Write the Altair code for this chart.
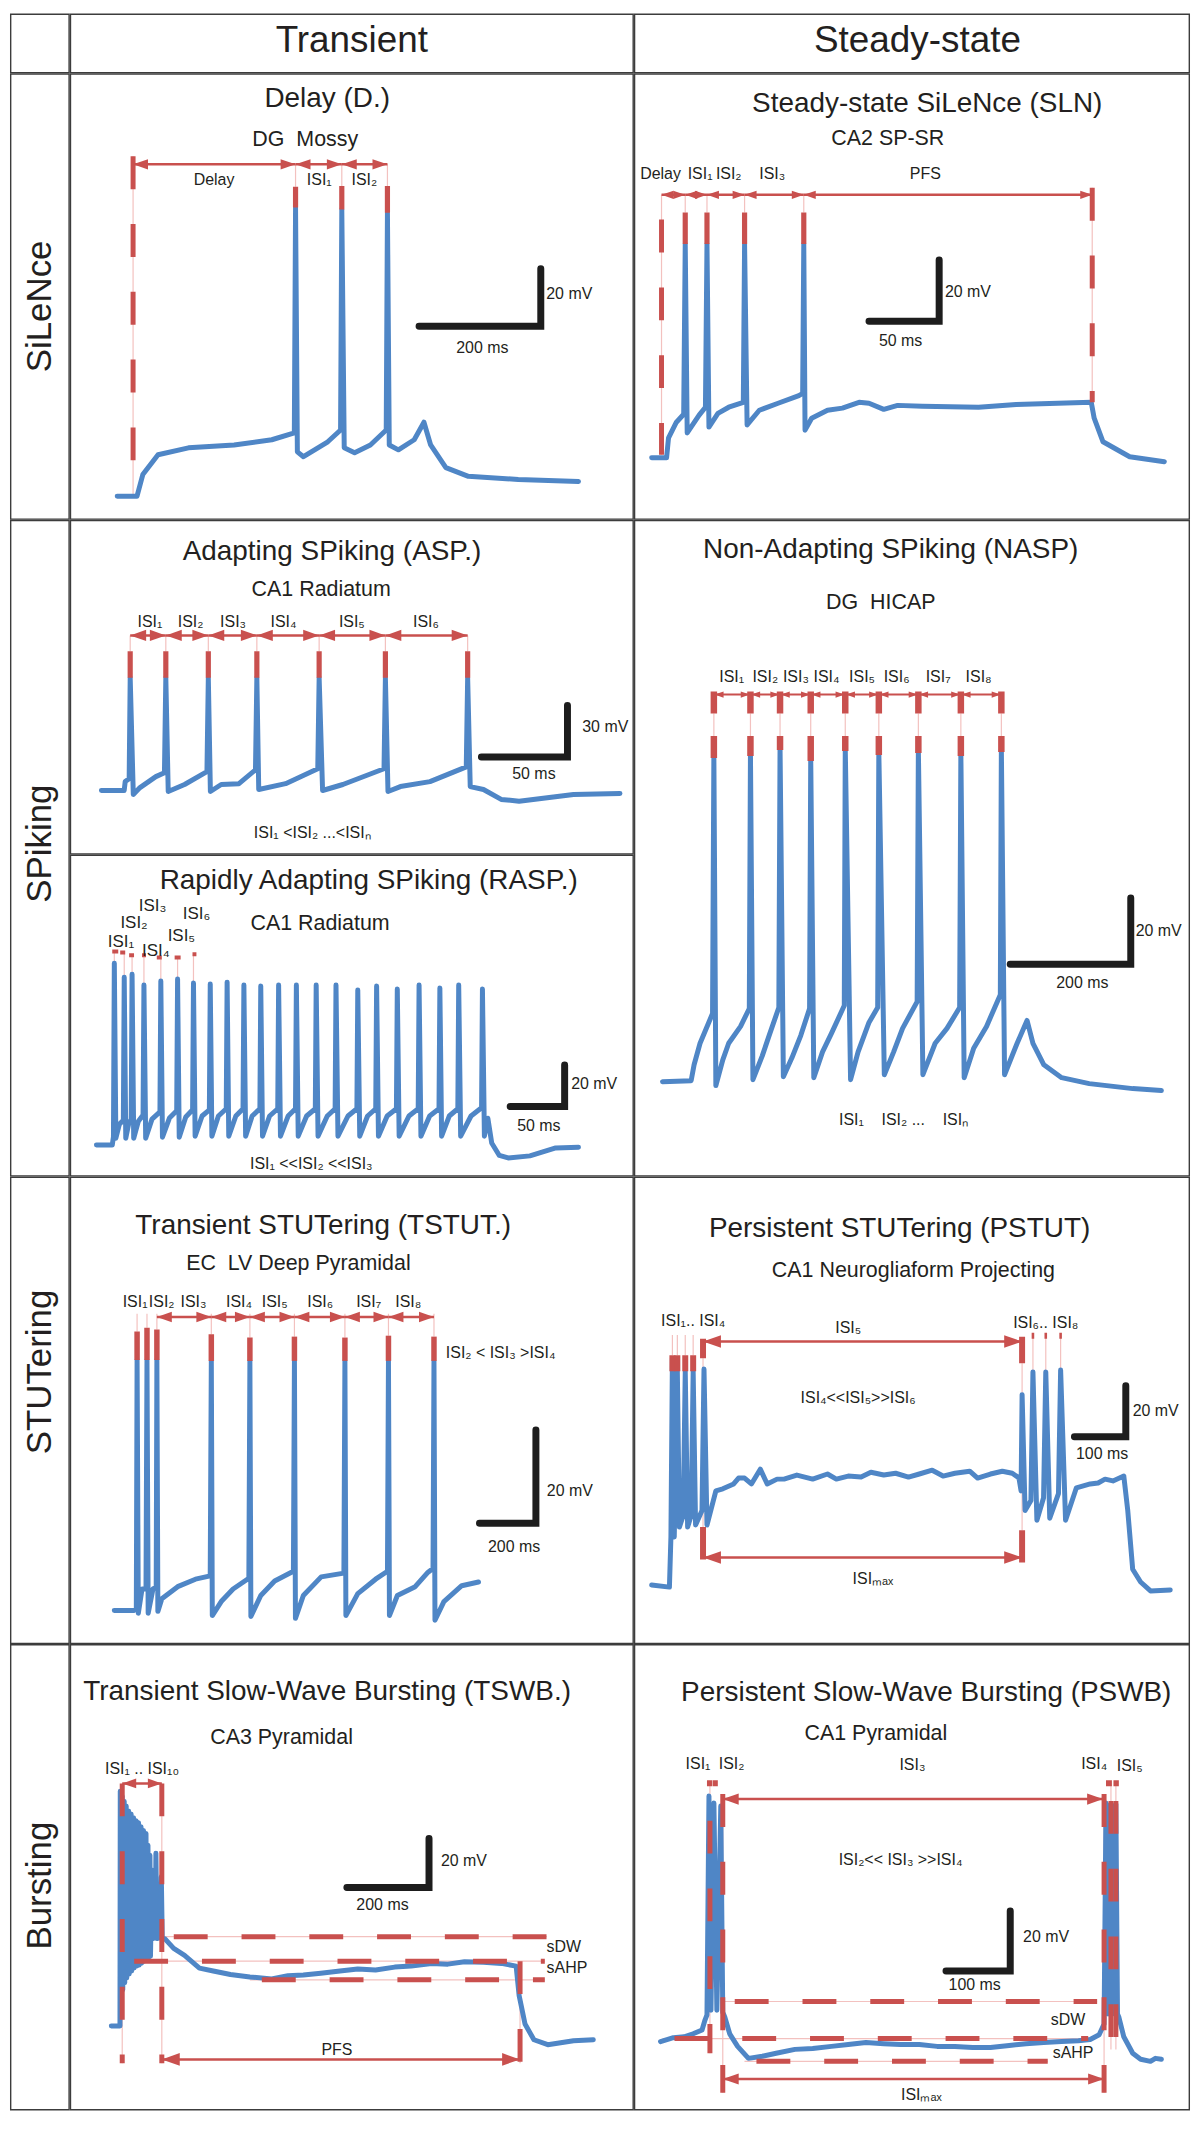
import altair as alt
import pandas as pd

FONT = "Liberation Sans"
TXT = "#231f20"
BLUE = "#4f86c6"
RED = "#c9504e"
PINK = "#f3c1bf"
BAR = "#1d1d1d"
GRID = "#3c3c3c"
NB = "\u00a0"

COLUMN_TITLES = ["Transient", "Steady-state"]
ROW_TITLES = ["SiLeNce", "SPiking", "STUTering", "Bursting"]

# ---------------- traces: time in ms, membrane potential in mV (relative to rest) -------------
# Delay (D.) - DG Mossy
D_T = [0, 32.5, 42, 67, 117, 192, 254, 291, 293, 296, 306, 346, 367, 369, 373, 390, 416, 442,
       444, 447, 462, 488, 504, 515, 540, 577, 659, 758]
D_V = [0, 0, 7.5, 14.4, 16.8, 17.8, 19.6, 22.0, 100.2, 15.4, 13.7, 18.9, 23.0, 99.5, 16.8, 15.1,
       17.8, 23.0, 98.4, 17.8, 16.1, 19.6, 25.7, 17.8, 9.9, 6.9, 5.8, 5.1]
D_SPK = [293, 369, 444]
D_PEAK = [100.2, 99.5, 98.4]
D_CAP = [107.4, 107.7, 107.7]
D_ONSET = 26

# Steady-state SiLeNce (SLN) - CA2 SP-SR
SLN_T = [0, 10.6, 12.0, 17.6, 22.8, 23.9, 25.3, 33.8, 38.3, 39.4, 40.8, 47.2, 54.9, 65.3, 66.2, 68.0,
         76.7, 90.1, 104.9, 107.6, 108.4, 109.3, 114.0, 125.3, 135.9, 147.8, 154.9, 165.4, 175.3,
         192.9, 233.0, 259.8, 313.3, 315.4, 321.7, 340.7, 365.4]
SLN_V = [0, 0, 6.5, 11.6, 14.2, 69.8, 8.1, 13.9, 16.5, 69.8, 10.0, 14.5, 16.5, 18.1, 69.8, 10.7,
         15.5, 17.8, 20.3, 21.0, 69.8, 9.0, 12.9, 15.5, 16.2, 18.1, 17.8, 15.8, 17.1,
         16.8, 16.5, 17.4, 18.1, 12.9, 5.2, 0.3, -1.3]
SLN_SPK = [23.9, 39.4, 66.2, 108.4]
SLN_PEAK = [69.8, 69.8, 69.8, 69.8]
SLN_CAP = [80.1, 80.1, 80.1, 80.1]
SLN_ONSET = 7.0
SLN_OFFSET = 314.0

# Adapting SPiking (ASP.) - CA1 Radiatum
ASP_T = [0, 13.2, 13.8, 16.1, 16.7, 18.5, 22.4, 31.6, 36.6, 37.4, 38.8, 48.3, 61.3, 62.1, 63.3, 69.6,
         79.9, 89.5, 90.3, 91.4, 107.0, 125.7, 126.5, 128.5, 140.3, 164.2, 165.0, 166.5, 173.7,
         190.9, 212.0, 212.8, 214.3, 222.0, 232.3, 242.7, 274.3, 301.3]
ASP_V = [0, 0, 5.2, 6.9, 65.8, -2.3, 1.7, 8.1, 10.4, 65.8, -0.6, 3.5, 11.0, 65.8, -0.6, 3.5,
         4.0, 12.1, 65.8, 0.6, 4.0, 12.7, 65.8, 0, 3.5, 12.7, 65.8, -0.6, 2.3,
         5.2, 13.8, 65.8, 2.3, 0.6, -5.2, -6.3, -2.3, -1.7]
ASP_SPK = [16.7, 37.4, 62.1, 90.3, 126.5, 165.0, 212.8]
ASP_PEAK = [65.8] * 7
ASP_CAP = [81.4] * 7

# Rapidly Adapting SPiking (RASP.) - CA1 Radiatum
RASP_T = [0, 14.5, 15.6, 16.4, 17.8, 21.0, 24.7, 25.5, 26.9, 29.5, 31.9, 32.7, 34.2, 38.5, 42.8, 43.6,
          45.2, 51.0, 58.3, 59.1, 60.6, 67.0, 73.7, 74.5, 76.0, 82.0, 88.3, 89.1, 90.6, 97.0, 103.7,
          104.5, 106.0, 112.0, 119.2, 120.0, 121.5, 128.0, 134.6, 135.4, 137.0, 143.0, 150.1, 150.9,
          152.5, 159.0, 166.5, 167.3, 169.0, 176.0, 182.8, 183.6, 185.3, 193.0, 201.0, 201.8, 203.5,
          212.0, 219.2, 220.0, 221.8, 231.0, 239.2, 240.0, 241.8, 249.0, 256.5, 257.3, 259.0, 267.0,
          275.5, 276.3, 278.0, 287.0, 295.5, 296.3, 298.0, 306.0, 314.6, 315.4, 317.0, 324.0, 331.9,
          332.7, 334.5, 344.0, 353.7, 354.5, 356.3, 359.5, 363.0, 370.0, 378.1, 398.1, 421.8, 442.7]
RASP_V = [0, 0, 4.0, 87.6, 3.3, 10.0, 12.0, 80.9, 3.3, 10.0, 12.5, 82.3, 3.3, 11.5, 14.5, 77.1,
          3.3, 12.5, 16.0, 79.0, 3.8, 13.0, 16.5, 80.0, 3.8, 13.5, 17.0, 78.1, 4.3, 14.0, 17.0,
          77.6, 4.3, 14.0, 17.5, 78.5, 4.3, 14.0, 17.5, 77.1, 4.3, 14.0, 17.5, 76.6,
          4.3, 14.0, 17.5, 77.1, 4.3, 14.0, 17.5, 77.1, 4.3, 14.0, 17.5, 77.1, 4.3,
          14.0, 17.5, 77.1, 4.3, 14.0, 17.5, 74.7, 4.3, 14.0, 17.5, 76.6, 4.3, 14.0,
          17.5, 75.2, 4.3, 14.0, 17.5, 77.1, 4.3, 14.0, 17.5, 75.7, 4.3, 14.0, 17.5,
          77.1, 4.3, 14.0, 18.0, 75.2, 4.3, 12.9, 1.0, -5.0, -6.2, -5.2, -1.4, -1.0]
RASP_SPK = [16.4, 25.5, 32.7, 43.6, 59.1, 74.5, 89.1]
RASP_PEAK = [87.6, 80.9, 82.3, 77.1, 79.0, 80.0, 78.1]
RASP_MARK = [(14.5, 20.0, 93.3), (21.8, 26.4, 92.8), (30.0, 34.5, 91.4), (41.8, 45.5, 91.4),
             (55.4, 60.0, 90.4), (71.8, 77.3, 90.4), (88.2, 91.8, 91.9)]

# Non-Adapting SPiking (NASP) - DG HICAP
NASP_T = [0, 47.5, 52.4, 62.3, 83.0, 85.2, 88.5, 100.0, 109.8, 129.5, 144.0, 145.9, 150.0, 165.5,
          177.0, 193.0, 195.0, 200.5, 214.7, 229.5, 244.0, 245.9, 251.0, 265.5, 280.3, 301.6, 303.2,
          312.0, 324.5, 342.6, 357.0, 358.9, 368.0, 383.5, 398.3, 422.5, 424.5, 432.0, 452.4, 472.0,
          493.0, 495.0, 500.5, 516.3, 537.6, 560.5, 562.2, 567.5, 588.4, 604.8, 614.6, 632.7, 662.2,
          708.0, 780.2, 827.7]
NASP_V = [0, 0.3, 5.1, 11.6, 20.6, 98.8, -1.2, 6.6, 11.6, 16.7, 22.1, 99.4, 0.6, 7.8,
          14.0, 22.4, 101.2, 1.5, 7.2, 14.0, 22.1, 97.9, 1.2, 9.0, 14.6, 23.0, 100.9,
          0.6, 9.0, 17.9, 22.4, 99.7, 2.1, 9.0, 16.1, 24.2, 100.3, 2.1, 11.6, 16.1,
          22.4, 99.4, 1.2, 10.1, 16.7, 26.3, 100.6, 2.1, 11.6, 18.5, 11.6, 5.1, 1.2,
          -0.6, -2.1, -2.7]
NASP_SPK = [85.2, 145.9, 195.0, 245.9, 303.2, 358.9, 424.5, 495.0, 562.2]
NASP_PEAK = [98.8, 99.4, 101.2, 97.9, 100.9, 99.7, 100.3, 99.4, 100.6]

# Transient STUTering (TSTUT.) - EC LV Deep Pyramidal
TSTUT_T = [0, 70.2, 78.0, 80.7, 85.0, 98.3, 112.3, 115.8, 120.0, 136.9, 148.5, 150.9, 154.4, 168.4,
           224.6, 287.7, 340.0, 343.9, 347.4, 379.0, 421.1, 477.0, 480.7, 484.2, 519.3, 568.5, 635.0,
           638.6, 642.2, 670.2, 733.4, 814.0, 817.6, 821.1, 863.2, 926.4, 968.5, 972.0, 975.5, 1003.6,
           1066.7, 1112.4, 1130.0, 1133.4, 1136.9, 1168.5, 1231.7, 1291.3]
TSTUT_V = [0, 0, 0.4, 53.7, -0.6, 4.6, 4.6, 53.7, -0.6, 4.6, 5.0, 53.7, -0.2, 2.5,
           5.1, 6.7, 7.4, 53.5, -1.1, 1.9, 4.6, 6.9, 53.5, -1.3, 3.2, 6.3, 8.4,
           53.5, -1.7, 3.2, 7.2, 8.0, 53.5, -1.1, 3.6, 6.7, 8.4, 53.5, -1.1, 3.2,
           5.1, 8.2, 9.0, 53.5, -2.1, 1.9, 5.3, 6.1]
TSTUT_SPK = [80.7, 115.8, 150.9, 343.9, 480.7, 638.6, 817.6, 972.0, 1133.4]
TSTUT_PEAK = [53.7, 53.7, 53.7, 53.5, 53.5, 53.5, 53.5, 53.5, 53.5]
TSTUT_CAP = [59.8, 60.6, 60.2, 59.2, 58.5, 58.7, 58.5, 58.9, 58.7]

# Persistent STUTering (PSTUT) - CA1 Neurogliaform Projecting
PSTUT_T = [0, 34.6, 37.5, 40.4, 44.0, 50.0, 54.0, 61.5, 65.4, 70.0, 77.0, 80.8, 85.5, 98.0, 101.9,
           107.7, 125.0, 138.5, 159.6, 169.2, 180.8, 194.2, 211.5, 225.0, 244.2, 257.7, 282.7, 313.5,
           342.3, 359.6, 382.7, 407.7, 426.9, 451.9, 475.0, 500.0, 521.1, 546.2, 567.3, 590.4, 619.2,
           634.6, 659.6, 682.7, 702.0, 715.0, 719.2, 721.2, 727.0, 738.4, 742.3, 750.0, 763.0, 767.3,
           775.0, 792.0, 796.2, 805.8, 826.9, 853.8, 869.2, 882.7, 898.1, 919.2, 926.9, 936.5, 951.9,
           971.2, 1009.6]
PSTUT_V = [0, -0.8, 18.8, 88.8, 18.8, 83.8, 22.7, 27.3, 83.8, 22.7, 27.3, 83.8, 23.5, 29.2, 84.6,
           23.5, 36.9, 37.7, 39.6, 41.9, 41.9, 39.6, 45.4, 39.6, 41.5, 41.5, 43.1, 41.5,
           43.5, 41.5, 42.7, 42.3, 44.2, 43.1, 43.8, 42.3, 43.5, 45.0, 42.7, 43.8, 44.6,
           41.9, 43.5, 44.6, 43.8, 42.0, 36.9, 74.6, 29.2, 33.1, 83.5, 25.4, 34.2, 83.5,
           26.2, 35.8, 84.2, 25.4, 38.1, 39.6, 40.0, 41.5, 40.8, 42.7, 29.2, 6.2, 1.2,
           -2.3, -1.9]
PSTUT_SPK = [40.4, 50.0, 65.4, 80.8, 101.9, 721.2, 742.3, 767.3, 796.2]
PSTUT_PEAK = [88.8, 83.8, 83.8, 83.8, 84.6, 74.6, 83.5, 83.5, 84.2]
PSTUT_EDGES = [100.0, 721.2]

# Transient Slow-Wave Bursting (TSWB.) - CA3 Pyramidal
TSWB_T = [0, 21.0, 21.7, 23.0, 26.5, 27.8, 31.3, 32.6, 36.2, 37.5, 42.2, 43.5, 48.2, 49.5, 54.2, 55.5,
          60.3, 61.6, 66.3, 67.6, 72.3, 73.6, 78.3, 79.6, 84.4, 85.7, 89.2, 90.5, 94.0, 95.3, 98.8,
          100.5, 107.0, 108.5, 111.0, 119.5, 121.7, 124.0, 130.1, 151.8, 178.3, 214.5, 248.2, 290.0,
          337.4, 390.4, 430.0, 467.5, 510.0, 556.7, 600.0, 643.5, 690.0, 730.2, 780.0, 819.4, 860.0,
          906.2, 950.0, 985.7, 993.0, 1007.4, 1029.1, 1062.8, 1125.5, 1173.7]
TSWB_V = [0, 0, 95.6, 10.4, 93.6, 14.8, 91.6, 17.6, 89.6, 19.6, 87.6, 21.2, 86.4, 22.4, 84.8, 23.6,
          83.6, 24.4, 82.8, 24.8, 81.2, 25.6, 79.6, 26.4, 78.4, 26.8, 73.6, 27.6, 69.6, 28.4, 63.6,
          35.6, 36.0, 70.4, 35.6, 36.0, 60.8, 35.6, 35.6, 31.6, 28.8, 23.6, 22.4, 21.0,
          20.0, 19.2, 20.5, 20.8, 21.5, 22.4, 23.2, 22.8, 24.0, 24.4, 25.5, 25.2, 26.2,
          26.0, 25.5, 24.4, 12.4, 0.8, -5.6, -7.6, -6.0, -5.6]

# Persistent Slow-Wave Bursting (PSWB) - CA1 Pyramidal
PSWB_T = [0, 20.0, 36.9, 50.8, 64.6, 69.2, 72.3, 75.4, 78.5, 83.1, 87.7, 93.8, 96.9, 100.0, 107.7,
          120.0, 136.9, 158.4, 180.0, 209.2, 236.9, 266.1, 292.2, 319.9, 347.6, 373.7, 403.0, 430.6,
          458.3, 486.0, 513.7, 542.9, 569.1, 596.7, 624.4, 650.6, 669.0, 682.9, 690.6, 693.6, 696.7,
          701.3, 704.0, 709.0, 711.5, 713.6, 721.3, 735.2, 747.5, 762.8, 770.5, 779.8]
PSWB_V = [0, 1.3, 1.6, 2.6, 3.9, 7.2, 8.9, 82.0, 10.5, 79.7, 10.5, 78.7, 9.8, 8.2, 2.6,
          -1.6, -5.6, -4.9, -3.9, -2.6, -2.3, -1.6, -1.0, -0.3, -0.7, -1.0, -1.0, -1.6,
          -1.6, -2.0, -2.0, -1.3, -0.7, -0.3, 0, 0.3, 0.7, 2.3, 5.9, 79.7, 9.2,
          79.4, 9.2, 79.4, 9.2, 8.2, 1.6, -3.9, -5.9, -6.6, -5.6, -5.9]


def edges_to_arrows(edges, v, head):
    return [(a, b, v, head) for a, b in zip(edges[:-1], edges[1:])]


PANELS = {
    "D": dict(
        dt=[-78, 849], dv=[-8.2, 146.8], T=D_T, V=D_V,
        caps=[(t, a, b) for t, a, b in zip(D_SPK, D_PEAK, D_CAP)],
        pink=[(t, c, 115.2) for t, c in zip(D_SPK, D_CAP)] + [(D_ONSET, 118.0, 0.7)],
        dashv=[(D_ONSET, 118.0, 0.7)],
        arrows=edges_to_arrows([D_ONSET] + D_SPK, 115.2, 15),
        bar=(496, 696, 59.0, 79.0),
        texts=[("Delay (D.)", 345, 137.9, "title"), ("DG" + NB + NB + "Mossy", 309, 123.5, "sub"),
               ("Delay", 159, 109.8, "isi"), ("ISI₁", 332, 109.8, "isi"), ("ISI₂", 406, 109.8, "isi"),
               ("20 mV", 705, 70.3, "bar_l"), ("200 ms", 600, 51.5, "bar_c")]),
    "SLN": dict(
        dt=[-12.7, 383.7], dv=[-20.3, 125.6], T=SLN_T, V=SLN_V,
        caps=[(t, a, b) for t, a, b in zip(SLN_SPK, SLN_PEAK, SLN_CAP)],
        pink=[(t, c, 85.9) for t, c in zip(SLN_SPK, SLN_CAP)] + [(SLN_ONSET, 85.9, 1.0), (SLN_OFFSET, 88.2, 18.1)],
        dashv=[(SLN_ONSET, 77.8, 1.0), (SLN_OFFSET, 88.2, 18.1)],
        arrows=edges_to_arrows([SLN_ONSET] + SLN_SPK + [SLN_OFFSET], 85.9, 12),
        bar=(154.9, 204.9, 44.6, 64.6),
        texts=[("Steady-state SiLeNce (SLN)", 196.4, 115.6, "title"), ("CA2 SP-SR", 168.3, 104.3, "sub"),
               ("Delay", 6.3, 92.6, "isi"), ("ISI₁", 34.5, 92.6, "isi"), ("ISI₂", 54.9, 92.6, "isi"),
               ("ISI₃", 85.9, 92.6, "isi"), ("PFS", 195.0, 92.6, "isi"),
               ("20 mV", 209, 54.3, "bar_l"), ("50 ms", 177.4, 38.1, "bar_c")]),
    "ASP": dict(
        dt=[-18.4, 309.4], dv=[-37.5, 158.1], T=ASP_T, V=ASP_V,
        caps=[(t, a, b) for t, a, b in zip(ASP_SPK, ASP_PEAK, ASP_CAP)],
        pink=[(t, c, 90.6) for t, c in zip(ASP_SPK, ASP_CAP)],
        arrows=edges_to_arrows(ASP_SPK, 90.6, 16),
        bar=(220.8, 270.8, 19.6, 49.6),
        texts=[("Adapting SPiking (ASP.)", 134.0, 139.1, "title"), ("CA1 Radiatum", 127.7, 117.1, "sub"),
               ("ISI₁", 28.2, 98.6, "isi"), ("ISI₂", 51.8, 98.6, "isi"), ("ISI₃", 76.5, 98.6, "isi"),
               ("ISI₄", 105.8, 98.6, "isi"), ("ISI₅", 145.5, 98.6, "isi"), ("ISI₆", 188.6, 98.6, "isi"),
               ("30 mV", 279.4, 36.9, "bar_l"), ("50 ms", 251.3, 9.8, "bar_c"),
               ("ISI₁ <ISI₂ ...<ISIₙ", 122.5, -24.8, "note")]),
    "RASP": dict(
        dt=[-24.5, 493.6], dv=[-15.2, 139.9], T=RASP_T, V=RASP_V,
        pink=[(t, p, m[2]) for t, p, m in zip(RASP_SPK, RASP_PEAK, RASP_MARK)],
        ticks=[m for m in RASP_MARK], tickw=4,
        bar=(380, 430, 18.6, 38.6),
        texts=[("Rapidly Adapting SPiking (RASP.)", 250, 127.1, "title"), ("CA1 Radiatum", 205.4, 106.6, "sub"),
               ("ISI₁", 22.6, 97.6, "isi_big"), ("ISI₂", 34.5, 106.9, "isi_big"), ("ISI₃", 51.5, 115.0, "isi_big"),
               ("ISI₄", 54.5, 93.3, "isi_big"), ("ISI₅", 78.0, 100.5, "isi_big"), ("ISI₆", 92.0, 111.5, "isi_big"),
               ("20 mV", 436, 29.5, "bar_l"), ("50 ms", 406.3, 9.0, "bar_c"),
               ("ISI₁ <<ISI₂ <<ISI₃", 197.3, -9.0, "note")]),
    "NASP": dict(
        dt=[-47.5, 875.2], dv=[-28.7, 169.8], T=NASP_T, V=NASP_V,
        caps=[(t, p - 1, 104.5) for t, p in zip(NASP_SPK, NASP_PEAK)] + [(t, 111.3, 117.9) for t in NASP_SPK],
        capw=6.5,
        pink=[(t, 104.5, 111.3) for t in NASP_SPK],
        arrows=[(a + 1.2, b - 1.2, 117.0, 9) for a, b in zip(NASP_SPK[:-1], NASP_SPK[1:])],
        arrw=2,
        bar=(576.9, 776.9, 35.5, 55.5),
        texts=[("Non-Adapting SPiking (NASP)", 378.6, 160.6, "title"), ("DG" + NB + NB + "HICAP", 362.2, 144.8, "sub"),
               ("ISI₁", 114.7, 122.4, "isi"), ("ISI₂", 170.5, 122.4, "isi"), ("ISI₃", 221.3, 122.4, "isi"),
               ("ISI₄", 272.1, 122.4, "isi"), ("ISI₅", 331.1, 122.4, "isi"), ("ISI₆", 388.4, 122.4, "isi"),
               ("ISI₇", 457.3, 122.4, "isi"), ("ISI₈", 524.5, 122.4, "isi"),
               ("20 mV", 785, 45.4, "bar_l"), ("200 ms", 696.6, 29.9, "bar_c"),
               ("ISI₁" + NB * 4 + "ISI₂ ..." + NB * 4 + "ISIₙ", 399.9, -11.6, "note")]),
    "TSTUT": dict(
        dt=[-157.9, 1842.2], dv=[-7.2, 93.0], T=TSTUT_T, V=TSTUT_V,
        caps=[(t, a, b) for t, a, b in zip(TSTUT_SPK, TSTUT_PEAK, TSTUT_CAP)], capw=5.5,
        pink=[(t, c, 63.6) for t, c in zip(TSTUT_SPK, TSTUT_CAP)],
        arrows=edges_to_arrows(TSTUT_SPK[2:], 62.9, 15),
        bar=(1294.8, 1494.8, 18.7, 38.7),
        texts=[("Transient STUTering (TSTUT.)", 740.4, 82.5, "title"),
               ("EC" + NB + NB + "LV Deep Pyramidal", 652.7, 74.3, "sub"),
               ("ISI₁", 73.7, 66.1, "isi"), ("ISI₂", 168.0, 66.1, "isi"), ("ISI₃", 280.7, 66.1, "isi"),
               ("ISI₄", 442.1, 66.1, "isi"), ("ISI₅", 568.5, 66.1, "isi"), ("ISI₆", 729.9, 66.1, "isi"),
               ("ISI₇", 901.8, 66.1, "isi"), ("ISI₈", 1042.2, 66.1, "isi"),
               ("ISI₂ < ISI₃ >ISI₄", 1175.5, 55.2, "note_l"),
               ("20 mV", 1533.4, 25.7, "bar_l"), ("200 ms", 1417.6, 13.7, "bar_c")]),
    "PSTUT": dict(
        dt=[-34.6, 1048.1], dv=[-23.1, 160.0], T=PSTUT_T, V=PSTUT_V,
        caps=[(t, 83.8, 90.0) for t in PSTUT_SPK[:4]] +
             [(PSTUT_EDGES[0], 88.8, 96.5), (PSTUT_EDGES[1], 86.9, 97.3),
              (PSTUT_EDGES[0], 10.0, 22.7), (PSTUT_EDGES[1], 8.8, 21.5)],
        capw=6,
        ticks=[(t - 2.5, t + 2.5, 97.7) for t in PSTUT_SPK[6:]], tickw=6,
        pink=[(t, 90.0, 98.0) for t in PSTUT_SPK[:4]] + [(t, p, 97.7) for t, p in zip(PSTUT_SPK[6:], PSTUT_PEAK[6:])] +
             [(PSTUT_EDGES[0], 22.7, 88.8), (PSTUT_EDGES[1], 21.5, 86.9)],
        arrows=[(PSTUT_EDGES[0], PSTUT_EDGES[1], 95.4, 18), (PSTUT_EDGES[0], PSTUT_EDGES[1], 10.8, 18)],
        bar=(823.1, 923.1, 58.1, 78.1),
        texts=[("Persistent STUTering (PSTUT)", 482.7, 139.6, "title"),
               ("CA1 Neurogliaform Projecting", 509.6, 123.1, "sub"),
               ("ISI₁.. ISI₄", 80.8, 103.5, "isi"), ("ISI₅", 382.7, 100.8, "isi"),
               ("ISI₆.. ISI₈", 767.3, 102.5, "isi"), ("ISI₄<<ISI₅>>ISI₆", 401.9, 73.1, "note"),
               ("ISIₘₐₓ", 430.8, 2.3, "isi"),
               ("20 mV", 936.5, 68.1, "bar_l"), ("100 ms", 876.9, 51.5, "bar_c")]),
    "TSWB": dict(
        dt=[-101.2, 1272.5], dv=[-34.4, 155.6], T=TSWB_T, V=TSWB_V,
        dashv=[(26.5, 98.8, -15.2), (122.9, 98.8, -15.2), (995.3, 26.4, -15.2)],
        dashh=[(122.9, 1060.4, 36.4), (26.5, 1055.6, 26.4), (337.4, 1055.6, 18.8)],
        pink=[(26.5, 98.8, -15.2), (122.9, 98.8, -15.2), (995.3, 26.4, -15.2)],
        pinkh=[(122.9, 1060.4, 36.4), (26.5, 1055.6, 26.4), (337.4, 1055.6, 18.8)],
        arrows=[(26.5, 122.9, 98.8, 14), (122.9, 995.3, -13.6, 18)],
        bar=(573.6, 773.6, 56.4, 76.4),
        texts=[("Transient Slow-Wave Bursting (TSWB.)", 525.4, 136.0, "title"),
               ("CA3 Pyramidal", 414.5, 117.2, "sub"),
               ("ISI₁ .. ISI₁₀", 74.7, 104.8, "isi"), ("PFS", 549.5, -9.6, "isi"),
               ("sDW", 1060, 32.0, "note_l"), ("sAHP", 1060, 23.6, "note_l"),
               ("20 mV", 802.5, 67.2, "bar_l"), ("200 ms", 660.3, 49.2, "bar_c")]),
    "PSWB": dict(
        dt=[-41.5, 824.4], dv=[-23.0, 132.8], T=PSWB_T, V=PSWB_V,
        dashv=[(76.9, 73.8, -3.9), (96.9, 82.7, -17.1), (690.6, 82.7, -17.1),
               (701.3, 80.4, -2.6), (709.0, 80.4, -2.6)],
        dashh=[(96.9, 679.8, 13.4), (3.1, 665.9, 1.0), (130.7, 602.9, -6.6)],
        pink=[(76.9, 86.3, -3.9), (96.9, 82.7, -17.1), (690.6, 82.7, -17.1),
              (701.3, 86.3, -2.6), (709.0, 86.3, -2.6)],
        pinkh=[(96.9, 679.8, 13.4), (3.1, 665.9, 1.0), (130.7, 602.9, -6.6)],
        ticks=[(72.3, 80.7, 86.3), (81.5, 89.2, 86.3), (693.6, 702.8, 86.3), (705.2, 713.6, 86.3)], tickw=6,
        arrows=[(96.9, 689.0, 81.0, 16), (96.9, 690.6, -12.5, 16)],
        bar=(444.5, 544.5, 23.6, 43.6),
        texts=[("Persistent Slow-Wave Bursting (PSWB)", 413.7, 116.4, "title"),
               ("CA1 Pyramidal", 335.3, 102.7, "sub"),
               ("ISI₁", 58.4, 92.8, "isi"), ("ISI₂", 110.7, 92.8, "isi"), ("ISI₃", 392.2, 92.5, "isi"),
               ("ISI₄", 675.2, 92.8, "isi"), ("ISI₅", 730.6, 92.2, "isi"),
               ("ISI₂<< ISI₃ >>ISI₄", 373.7, 60.7, "note"), ("ISIₘₐₓ", 406.0, -18.0, "isi"),
               ("sDW", 607.5, 7.2, "note_l"), ("sAHP", 610.6, -3.9, "note_l"),
               ("20 mV", 564.4, 35.1, "bar_l"), ("100 ms", 489.1, 19.0, "bar_c")]),
}

STYLE = {
    "title": dict(fontSize=28, align="center"),
    "sub": dict(fontSize=21.5, align="center"),
    "isi": dict(fontSize=16, align="center"),
    "isi_big": dict(fontSize=17, align="center"),
    "bar_l": dict(fontSize=16, align="left"),
    "bar_c": dict(fontSize=16, align="center"),
    "note": dict(fontSize=16, align="center"),
    "note_l": dict(fontSize=16, align="left"),
}

HEAD_R = "M0,0L-2,-0.7L-2,0.7Z"
HEAD_L = "M0,0L2,-0.7L2,0.7Z"


def border(X, Y, dt, dv):
    d = pd.DataFrame({"t": [dt[0]], "t2": [dt[1]], "v": [dv[0]], "v2": [dv[1]]})
    return alt.Chart(d).mark_rect(filled=False, stroke=GRID, strokeWidth=2.8, clip=True).encode(
        x=X, x2="t2", y=Y, y2="v2")


def panel(key, w, h):
    p = PANELS[key]
    xs = alt.Scale(domain=p["dt"], nice=False, zero=False)
    ys = alt.Scale(domain=p["dv"], nice=False, zero=False)
    X = alt.X("t:Q", scale=xs, axis=None)
    Y = alt.Y("v:Q", scale=ys, axis=None)
    L = []
    if p.get("pink"):
        d = pd.DataFrame(p["pink"], columns=["t", "v", "v2"])
        L.append(alt.Chart(d).mark_rule(color=PINK, strokeWidth=1.2, clip=True).encode(x=X, y=Y, y2="v2"))
    if p.get("pinkh"):
        d = pd.DataFrame(p["pinkh"], columns=["t", "t2", "v"])
        L.append(alt.Chart(d).mark_rule(color=PINK, strokeWidth=1.2, clip=True).encode(x=X, x2="t2", y=Y))
    tr = pd.DataFrame({"t": p["T"], "v": p["V"], "o": list(range(len(p["T"])))})
    L.append(alt.Chart(tr).mark_line(color=BLUE, strokeWidth=5, strokeCap="round",
                                     strokeJoin="round", clip=True).encode(x=X, y=Y, order="o:Q"))
    if p.get("caps"):
        d = pd.DataFrame(p["caps"], columns=["t", "v", "v2"])
        L.append(alt.Chart(d).mark_rule(color=RED, strokeWidth=p.get("capw", 5.2), strokeCap="butt", clip=True)
                 .encode(x=X, y=Y, y2="v2"))
    if p.get("ticks"):
        d = pd.DataFrame(p["ticks"], columns=["t", "t2", "v"])
        L.append(alt.Chart(d).mark_rule(color=RED, strokeWidth=p.get("tickw", 5), strokeCap="butt", clip=True)
                 .encode(x=X, x2="t2", y=Y))
    if p.get("dashv"):
        d = pd.DataFrame(p["dashv"], columns=["t", "v", "v2"])
        L.append(alt.Chart(d).mark_rule(color=RED, strokeWidth=5, strokeDash=[33, 35], strokeCap="butt",
                                        clip=True).encode(x=X, y=Y, y2="v2"))
    if p.get("dashh"):
        d = pd.DataFrame(p["dashh"], columns=["t", "t2", "v"])
        L.append(alt.Chart(d).mark_rule(color=RED, strokeWidth=5, strokeDash=[34, 34],
                                        strokeDashOffset=-12, strokeCap="butt", clip=True)
                 .encode(x=X, x2="t2", y=Y))
    if p.get("arrows"):
        d = pd.DataFrame(p["arrows"], columns=["t", "t2", "v", "s"])
        L.append(alt.Chart(d).mark_rule(color=RED, strokeWidth=p.get("arrw", 2.5), clip=True)
                 .encode(x=X, x2="t2", y=Y))
        d["s2"] = d["s"] ** 2
        left = d[["t", "v", "s2"]]
        right = d[["t2", "v", "s2"]].rename(columns={"t2": "t"})
        for dd, shp in ((left, HEAD_L), (right, HEAD_R)):
            L.append(alt.Chart(dd).mark_point(shape=shp, filled=True, color=RED, opacity=1, strokeWidth=0,
                                              clip=True)
                     .encode(x=X, y=Y, size=alt.Size("s2:Q", scale=None)))
    if p.get("bar"):
        t1, t2, v1, v2 = p["bar"]
        d = pd.DataFrame({"t": [t1, t2, t2], "v": [v1, v1, v2], "o": [0, 1, 2]})
        L.append(alt.Chart(d).mark_line(color=BAR, strokeWidth=7, strokeCap="round", strokeJoin="miter",
                                        clip=True).encode(x=X, y=Y, order="o:Q"))
    tx = pd.DataFrame(p["texts"], columns=["txt", "t", "v", "kind"])
    for kind, st in STYLE.items():
        sub = tx[tx["kind"] == kind]
        if len(sub) == 0:
            continue
        L.append(alt.Chart(sub).mark_text(font=FONT, color=TXT, baseline="middle", clip=True, **st)
                 .encode(x=X, y=Y, text="txt:N"))
    L.append(border(X, Y, p["dt"], p["dv"]))
    return alt.layer(*L).properties(width=w, height=h)


def text_cell(txt, w, h, size, fx=0.5, fy=0.5, angle=0):
    X = alt.X("t:Q", scale=alt.Scale(domain=[0, 1], nice=False, zero=False), axis=None)
    Y = alt.Y("v:Q", scale=alt.Scale(domain=[0, 1], nice=False, zero=False), axis=None)
    d = pd.DataFrame({"t": [fx], "v": [fy], "txt": [txt]})
    lab = alt.Chart(d).mark_text(fontSize=size, font=FONT, color=TXT, angle=angle, clip=True,
                                 align="center", baseline="middle").encode(x=X, y=Y, text="txt:N")
    return alt.layer(lab, border(X, Y, [0, 1], [0, 1])).properties(width=w, height=h)


W0, W1, W2 = 60, 566, 558
H_HEAD, H_SIL, H_ASP, H_RASP, H_STUT, H_BURST = 60, 448, 336, 323, 469, 468
LABEL_FY = [0.478, 0.507, 0.582, 0.482]

row_head = alt.hconcat(text_cell("", W0, H_HEAD, 10),
                       text_cell(COLUMN_TITLES[0], W1, H_HEAD, 37, 0.5, 0.54),
                       text_cell(COLUMN_TITLES[1], W2, H_HEAD, 37, 0.51, 0.54),
                       spacing=0)
row_sil = alt.hconcat(text_cell(ROW_TITLES[0], W0, H_SIL, 35, 0.5, LABEL_FY[0], 270),
                      panel("D", W1, H_SIL), panel("SLN", W2, H_SIL), spacing=0)
row_spk = alt.hconcat(text_cell(ROW_TITLES[1], W0, H_ASP + H_RASP, 35, 0.5, LABEL_FY[1], 270),
                      alt.vconcat(panel("ASP", W1, H_ASP), panel("RASP", W1, H_RASP), spacing=0),
                      panel("NASP", W2, H_ASP + H_RASP), spacing=0)
row_stut = alt.hconcat(text_cell(ROW_TITLES[2], W0, H_STUT, 35, 0.5, LABEL_FY[2], 270),
                       panel("TSTUT", W1, H_STUT), panel("PSTUT", W2, H_STUT), spacing=0)
row_burst = alt.hconcat(text_cell(ROW_TITLES[3], W0, H_BURST, 35, 0.5, LABEL_FY[3], 270),
                        panel("TSWB", W1, H_BURST), panel("PSWB", W2, H_BURST), spacing=0)

chart = alt.vconcat(row_head, row_sil, row_spk, row_stut, row_burst, spacing=0).properties(
    padding=2, background="white").configure_view(strokeWidth=0, strokeOpacity=0)

chart.save("out.html", embed_options={"renderer": "svg", "actions": False})
